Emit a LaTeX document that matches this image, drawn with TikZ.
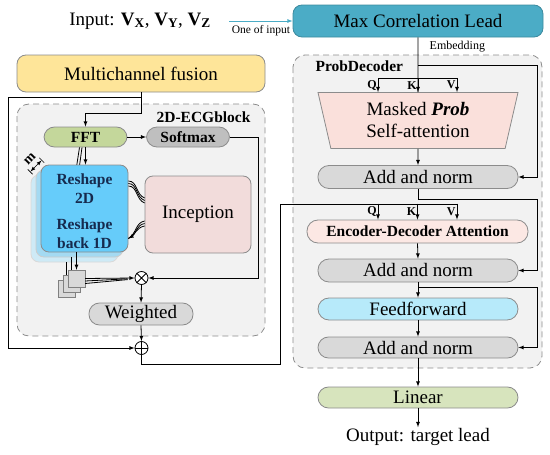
\documentclass[tikz,border=0pt]{standalone}
\usepackage{fontspec}
\setmainfont{Liberation Serif}
\usetikzlibrary{calc,positioning,arrows,shapes.geometric}
\definecolor{fusionfill}{RGB}{254,229,153}
\definecolor{leadfill}{RGB}{75,172,198}
\definecolor{fftfill}{RGB}{196,215,155}
\definecolor{linfill}{RGB}{215,228,189}
\definecolor{softfill}{RGB}{191,191,191}
\definecolor{normfill}{RGB}{217,217,217}
\definecolor{reshfill}{RGB}{102,204,250}
\definecolor{reshfillb}{RGB}{164,218,242}
\definecolor{reshfillc}{RGB}{206,234,246}
\definecolor{incfill}{RGB}{242,220,219}
\definecolor{attfill}{RGB}{250,224,219}
\definecolor{edfill}{RGB}{252,232,228}
\definecolor{fffill}{RGB}{183,234,250}
\definecolor{regionfill}{RGB}{242,242,242}
\definecolor{reshtext}{RGB}{22,42,78}
\tikzset{
	>=latex,
	bigfont/.style={font=\fontsize{19}{22}\selectfont},
	boldfont/.style={font=\fontsize{15.5}{19}\selectfont\bfseries},
	pill/.style={
		rectangle,
		rounded corners=10.5pt,
		draw=black!45, line width=0.8pt,
		inner sep=0pt,
		text centered},
	roundbox/.style={rectangle, rounded corners=8pt, draw=black!45, line width=0.8pt, inner sep=0pt},
	ecgregion/.style={draw=black!45, dash pattern=on 6pt off 4pt, rounded corners=12pt, fill=regionfill, line width=0.8pt},
	line/.style={draw, line width=0.8pt},
	qkv/.style={font=\fontsize{12}{14}\selectfont\bfseries, inner sep=1pt},
	opnode/.style={circle, draw, fill=white, line width=0.8pt, minimum size=13pt, inner sep=0pt},
}

\begin{document}
\begin{tikzpicture}[x=1pt,y=-1pt]
\useasboundingbox (0,0) rectangle (550,455);
\draw[ecgregion] (17,104) rectangle (265,336);
\draw[ecgregion] (293,55) rectangle (542,368);
\node[boldfont, anchor=east] (ecglbl) at (254,117) {2D-ECGblock};
\node[boldfont, anchor=west] (declbl) at (312,66) {ProbDecoder};

\node[bigfont] (input) at (140,21) {Input: \textbf{V\textsubscript{X}}, \textbf{V\textsubscript{Y}}, \textbf{V\textsubscript{Z}}};
\node[pill, fill=fusionfill, minimum width=248pt, minimum height=37pt, rounded corners=9pt, bigfont] (fusion) at (141,73.5) {Multichannel fusion};
\node[pill, fill=fftfill, minimum width=83pt, minimum height=20pt, boldfont] (fft) at (85.5,137) {FFT};
\node[pill, fill=softfill, minimum width=83pt, minimum height=20pt, boldfont] (softmax) at (188,137) {Softmax};

\draw[line] ($(fft.south)+(-6,0)$) -- ++(-4,26);
\draw[line] ($(fft.south)+(-3.5,0)$) -- ++(-3,22);
\node[roundbox, fill=reshfillc, draw=black!15, minimum size=87pt] (reshc) at (74.5,218.5) {};
\node[roundbox, fill=reshfillb, draw=black!20, minimum size=87pt] (reshb) at (79.5,213.5) {};
\node[roundbox, fill=reshfill, minimum size=87pt] (resh) at (84.5,208.5) {};
\node[boldfont, text=reshtext, align=center] (resh2d) at (84.5,189) {Reshape\\2D};
\node[boldfont, text=reshtext, align=center] (resh1d) at (84.5,234) {Reshape\\back 1D};
\draw[line width=0.7pt, |<->|] (30,172) -- (42,160);
\node[font=\fontsize{14}{16}\selectfont\bfseries, rotate=45, inner sep=0pt] (mlbl) at (30,159) {m};

\node[roundbox, fill=incfill, minimum width=106pt, minimum height=77pt, bigfont] (incep) at (198,214.5) {Inception};
\foreach \d in {-2.5,0,2.5}
	\draw[line] ($(resh.east)+(0,-25+\d)$) to[out=0,in=160] ($(incep.west)+(0,-14+\d)$);
\foreach \d in {-2.5,2.5}
	\draw[line] ($(incep.west)+(0,9+\d)$) to[out=190,in=30] ($(resh.east)+(0,30)$);
\draw[line,->] ($(incep.west)+(0,9)$) to[out=190,in=30] ($(resh.east)+(0,30)$);

\node[draw=black!50, fill=normfill, minimum size=17pt, inner sep=0pt] (sqc) at (66.5,288.5) {};
\node[draw=black!50, fill=normfill, minimum size=17pt, inner sep=0pt] (sqb) at (71.5,283.5) {};
\node[draw=black!50, fill=normfill, minimum size=17pt, inner sep=0pt] (sqr) at (76.5,278.5) {};
\draw[line] (sqc.north |- reshc.south) -- (sqc.north |- sqb.north);
\draw[line] (sqb.north |- reshb.south) -- (sqb.north |- sqr.north);

\node[opnode] (otimes) at (141.5,278) {};
\draw[line] (otimes.45) -- (otimes.225) (otimes.135) -- (otimes.315);
\node[pill, fill=normfill, minimum width=104pt, minimum height=22pt, bigfont] (weighted) at (141,314) {Weighted};
\node[opnode] (oplus) at (141.5,348) {};
\draw[line] (oplus.north) -- (oplus.south) (oplus.west) -- (oplus.east);

\draw[line,->] (fusion.south) -- ++(0,21) -| (fft.north);
\draw[line,->] ($(fusion.south)+(0,5)$) -- ++(-133,0) |- (oplus.west);
\draw[line,->] (fft.east) -- (softmax.west);
\draw[line,->] (softmax.east) -- ++(28,0) |- (otimes.east);
\draw[line,->] (fft.south) -- (fft.south |- resh.north);
\draw[line,->] (resh.south -| sqr.north) -- (sqr.north);
\draw[line,->] (sqr.east) -- (otimes.west);
\draw[line] ($(sqr.east)+(0,2.5)$) -- ($(otimes.west)+(-7,0.8)$);
\draw[line] ($(sqr.east)+(0,5)$) -- ($(otimes.west)+(-7,1.6)$);
\draw[line,->] (otimes.south) -- (weighted.north);
\draw[line,->] (weighted.south) -- (oplus.north);
\coordinate (bus) at (280,204);
\draw[line] (oplus.south) -- ++(0,9) -| (bus) -- ++(177,0);

\node[pill, fill=leadfill, draw=leadfill!80!black, minimum width=250pt, minimum height=32pt, rounded corners=9pt, bigfont] (lead) at (418,21) {Max Correlation Lead};
\draw[line, ->, leadfill] ($(input.east)+(15,0)$) -- (lead.west) node[midway, below=1pt, font=\fontsize{11.5}{13}\selectfont, text=black] {One of input};
\node[trapezium, trapezium angle=70, trapezium stretches body, shape border rotate=180, fill=attfill, draw=black!45, line width=0.8pt, minimum width=200pt, minimum height=56pt, inner sep=0pt, align=center, bigfont] (msa) at (418,120.5) {Masked \textbf{\textit{Prob}}\\Self-attention};
\draw[line] (lead.south) -- (msa.north) node[pos=0.16, anchor=west, xshift=8pt, font=\fontsize{12}{14}\selectfont] {Embedding};
\draw[line] ($(msa.north)+(-40,-14)$) -- ($(msa.north)+(39,-14)$);
\foreach \dx/\lbl in {-40/Q,0/K,39/V}
	\draw[line,->] ($(msa.north)+(\dx,-14)$) -- ($(msa.north)+(\dx,0)$) node[qkv, midway, left] {\lbl};

\node[pill, fill=normfill, minimum width=200pt, minimum height=23pt, rounded corners=11pt, bigfont] (add1) at (418,177) {Add and norm};
\draw[line,->] (msa.south) -- (add1.north);
\draw[line,->] ($(lead.south)+(0,28)$) -- ++(119,0) |- (add1.east);

\node[pill, fill=edfill, minimum width=221pt, minimum height=23pt, rounded corners=11pt, boldfont] (edatt) at (417.5,231.5) {Encoder-Decoder Attention};
\foreach \dx/\lbl in {-39.5/Q,0/K,39.5/V}
	\draw[line,->] ($(edatt.north)+(\dx,-16)$) -- ($(edatt.north)+(\dx,0)$) node[qkv, midway, left] {\lbl};

\node[pill, fill=normfill, minimum width=200pt, minimum height=23pt, rounded corners=11pt, bigfont] (add2) at (418,270.5) {Add and norm};
\draw[line,->] (add1.south) -- ++(0,10) -- ++(119,0) |- (add2.east);
\draw[line,->] (edatt.south) -- (add2.north);

\node[pill, fill=fffill, minimum width=200pt, minimum height=22pt, rounded corners=11pt, bigfont] (ff) at (418,309) {Feedforward};
\node[pill, fill=normfill, minimum width=200pt, minimum height=21pt, rounded corners=10.5pt, bigfont] (add3) at (418,347.5) {Add and norm};
\node[pill, fill=linfill, minimum width=200pt, minimum height=21pt, rounded corners=10.5pt, bigfont] (linear) at (418,397.5) {Linear};
\node[bigfont, inner sep=1pt] (output) at (418,437) {Output: target lead};
\draw[line,->] (add2.south) -- (ff.north);
\draw[line,->] ($(add2.south)+(0,5)$) -- ++(119,0) |- (add3.east);
\draw[line,->] (ff.south) -- (add3.north);
\draw[line,->] (add3.south) -- (linear.north);
\draw[line,->] (linear.south) -- (output.north);
\end{tikzpicture}
\end{document}
